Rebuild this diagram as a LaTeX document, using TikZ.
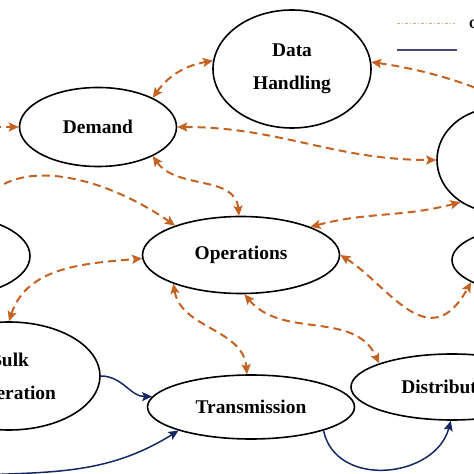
\documentclass[tikz,border=0pt]{standalone}
\usepackage{fontspec}
\setmainfont{Liberation Serif}
\usetikzlibrary{shapes.geometric,arrows.meta}
\definecolor{dorange}{RGB}{196,98,34}
\definecolor{dnavy}{RGB}{22,40,100}
\begin{document}
\begin{tikzpicture}[x=1pt,y=1pt,>={Stealth[length=10pt,width=9pt,inset=2pt]}, line join=round]
\tikzset{every node/.style={font=\bfseries\fontsize{19.4}{33}\selectfont, align=center},
	blob/.style={draw, ellipse, line width=1.6pt, inner sep=0pt},
	link/.style={<->, dorange, line width=2pt, dash pattern=on 8pt off 5pt},
	feed/.style={->, dnavy, line width=1.5pt}}
\useasboundingbox (0,0) rectangle (474,474);
% ellipses
\node[blob, minimum width=158, minimum height=118] (dh) at (292,405) {Data\\Handling};
\node[blob, minimum width=157, minimum height=79] (dem) at (98,347) {Demand};
\node[blob, minimum width=197, minimum height=77] (ops) at (241,219) {Operations};
\node[blob, minimum width=207, minimum height=64] (tx) at (251,67) {Transmission};
\node[blob, minimum width=202, minimum height=66] (dist) at (452,87) {Distribution};
\node[blob, minimum width=182, minimum height=108] (gen) at (9,98) {Bulk\\Generation};
\node[blob, minimum width=160, minimum height=80] (lft) at (-50,218) {};
\node[blob, minimum width=120, minimum height=104] (rgt) at (497,314) {};
\node[blob, minimum width=160, minimum height=66] (rgtb) at (532,214) {};
\coordinate (wd) at (-40,347);
\coordinate (sw) at (-40,-2);
% key
\draw[dorange!55, line width=1pt, dash pattern=on 3pt off 2pt on 1pt off 2pt] (397,450) -- (455,450);
\draw[dnavy!60!gray, line width=1.2pt] (397,424) -- (457,424);
\node[anchor=west, inner sep=0pt, font=\bfseries\fontsize{13}{15}\selectfont] (key) at (469,450) {C};
% orange links
\draw[link] (dem.28) to[out=55,in=190] (dh.174);
\draw[link] (dh.5) .. controls +(70,-10) and +(-30,20) .. (rgt.60);
\draw[link] (wd) -- (dem.west);
\draw[link] (dem.east) to[out=0,in=180] (rgt.west);
\draw[link] (dem.-28) to[out=-55,in=95] (ops.93);
\draw[link] (lft.60) to[out=60,in=145] (ops.156);
\draw[link] (ops.22) to[out=15,in=195] (rgt.229);
\draw[link] (gen.north) to[out=72,in=185] (ops.182);
\draw[link] (ops.203) to[out=-80,in=95] (tx.97);
\draw[link] (ops.275) to[out=-50,in=115] (dist.162);
\draw[link] (ops.east) .. controls +(48,-30) and +(-42,-76) .. (rgtb.200);
% blue feeds
\draw[feed] (gen.east) to[out=0,in=180] (tx.174);
\draw[feed] (sw) to[out=3,in=212] (tx.198);
\draw[feed] (tx.-18) to[out=-78,in=-105,looseness=1.2] (dist.268);
\end{tikzpicture}
\end{document}
